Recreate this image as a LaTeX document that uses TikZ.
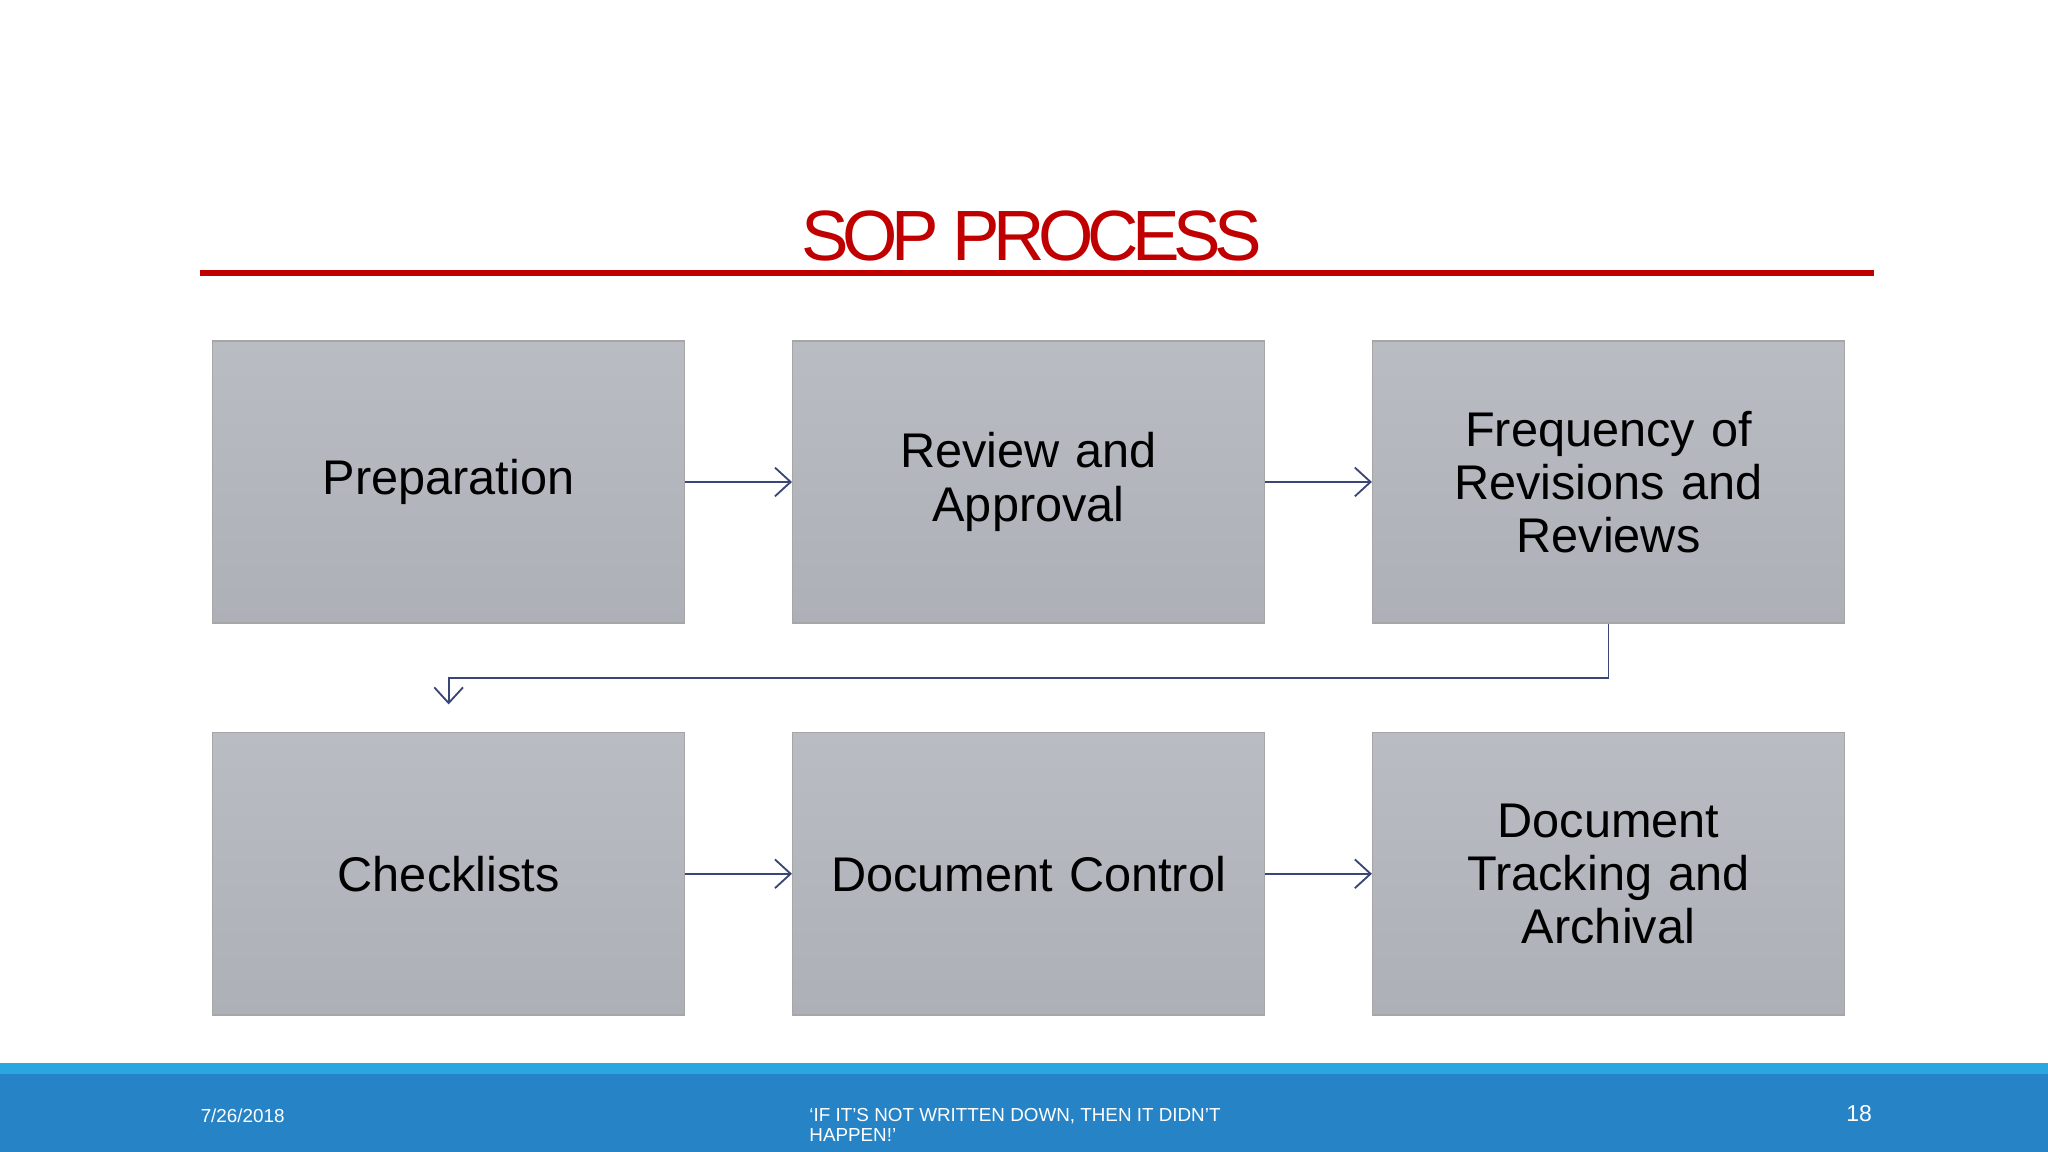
\documentclass[tikz,border=0pt]{standalone}
\usepackage{fontspec}
\setmainfont{Liberation Sans}
\usetikzlibrary{arrows.meta}
\definecolor{boxg}{HTML}{ADB0B7}
\definecolor{boxl}{HTML}{B9BCC2}
\definecolor{navy}{HTML}{3A4676}
\definecolor{sopred}{HTML}{C00000}
\definecolor{fblue}{HTML}{2683C6}
\definecolor{lblue}{HTML}{2AA7E0}
\tikzset{
  procbox/.style={draw=gray!70, line width=0.3pt, top color=boxl, bottom color=boxg, minimum width=3.61cm, minimum height=2.16cm, align=center, font=\fontsize{10.6}{11.6}\selectfont, inner sep=0pt, text width=3.4cm},
  flow/.style={draw=navy, line width=0.4pt, -{Straight Barb[length=1.2mm,width=2.2mm]}},
  foot/.style={text=white, font=\fontsize{4.1}{4.3}\selectfont, anchor=north west, align=left, inner sep=0pt}
}
\begin{document}
\begin{tikzpicture}[x=0.01cm,y=-0.01cm]
\useasboundingbox (0,0) rectangle (1568,882);
\fill[white] (0,0) rectangle (1568,882);
\fill[lblue] (0,814) rectangle (1568,822);
\fill[fblue] (0,822) rectangle (1568,882);
\node[text=sopred, font=\fontsize{15.5}{16}\selectfont, inner sep=0pt] (title) at (790,181) {\addfontfeature{LetterSpace=-9}SOP PROCESS};
\draw[sopred, line width=1.1pt] (153,209) -- (1435,209);
\node[procbox] (a) at (343.5,369) {Preparation};
\node[procbox] (b) at (787.5,369) {Review and\\Approval};
\node[procbox] (c) at (1231.5,369) {Frequency of\\Revisions and\\Reviews};
\node[procbox] (d) at (343.5,669) {Checklists};
\node[procbox] (e) at (787.5,669) {Document Control};
\node[procbox] (f) at (1231.5,669) {Document\\Tracking and\\Archival};
\draw[flow] (a) -- (b);
\draw[flow] (b) -- (c);
\draw[flow] (d) -- (e);
\draw[flow] (e) -- (f);
\coordinate (k1) at (1231.5,519);
\coordinate (k2) at (343.5,519);
\draw[flow] (c.south) -- (k1) -- (k2) -- ([yshift=6]d.north);
\node[foot] (date) at (153,848) {7/26/2018};
\node[foot] (quote) at (619,848) {‘IF IT’S NOT WRITTEN DOWN, THEN IT DIDN’T\\HAPPEN!’};
\node[foot, font=\fontsize{5}{5}\selectfont] (num) at (1413,846) {18};
\end{tikzpicture}
\end{document}
